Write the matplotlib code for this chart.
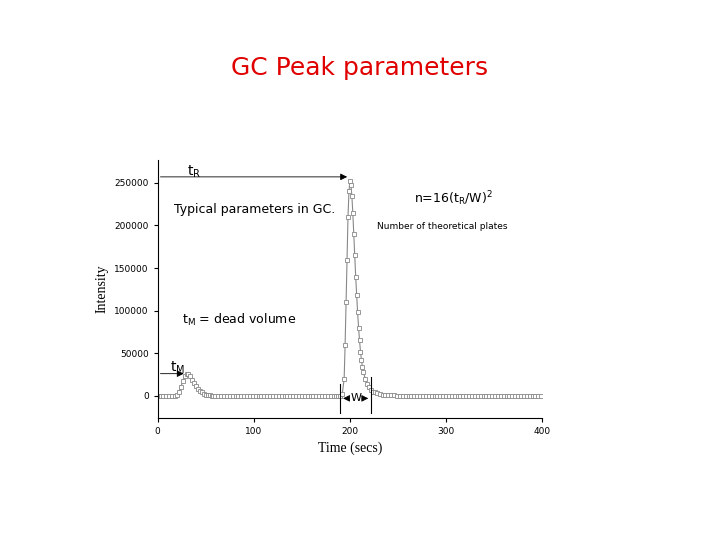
import matplotlib
matplotlib.use("Agg")
import matplotlib.pyplot as plt

t_small = [0, 3, 6, 9, 12, 15, 18, 20, 22, 24, 26, 28, 30, 32, 34, 36, 38, 40, 42, 44, 46, 48, 50, 52, 54, 56, 58, 60]
i_small = [0, 0, 0, 0, 0, 0, 0, 1000, 4000, 10000, 17000, 23000, 26000, 25500, 23000, 19000, 15000, 11500, 8500, 6000, 4000, 2500, 1500, 800, 400, 200, 0, 0]
t_base1 = [63, 66, 69, 72, 75, 78, 81, 84, 87, 90, 93, 96, 99, 102, 105, 108, 111, 114, 117, 120, 123, 126, 129, 132, 135, 138, 141, 144, 147, 150, 153, 156, 159, 162, 165, 168, 171, 174, 177, 180, 183, 186, 188]
t_big = [190, 192, 194, 195, 196, 197, 198, 199, 200, 201, 202, 203, 204, 205, 206, 207, 208, 209, 210, 211, 212, 213, 214, 216, 218, 220, 222, 224, 226, 228, 231, 234, 237, 240, 243, 246, 249, 252, 255, 258, 261]
i_big = [0, 2000, 20000, 60000, 110000, 160000, 210000, 240000, 252000, 248000, 235000, 215000, 190000, 165000, 140000, 118000, 98000, 80000, 65000, 52000, 42000, 34000, 28000, 20000, 14000, 10000, 7000, 5000, 4000, 3000, 2000, 1400, 1000, 700, 500, 400, 300, 200, 100, 50, 0]
t_base2 = [264, 267, 270, 273, 276, 279, 282, 285, 288, 291, 294, 297, 300, 303, 306, 309, 312, 315, 318, 321, 324, 327, 330, 333, 336, 339, 342, 345, 348, 351, 354, 357, 360, 363, 366, 369, 372, 375, 378, 381, 384, 387, 390, 393, 396, 399]

t = t_small + t_base1 + t_big + t_base2
y = i_small + [0]*len(t_base1) + i_big + [0]*len(t_base2)

fig = plt.figure(figsize=(7.2, 5.4), dpi=100)
fig.text(0.5, 0.874, "GC Peak parameters", color="#e00000", fontsize=18, ha="center", va="center", family="DejaVu Sans")
ax = fig.add_axes([0.219, 0.226, 0.534, 0.478])
ax.plot(t, y, color="#888888", lw=0.8, marker="s", ms=2.3, mfc="white", mec="#888888", mew=0.6)
ax.set_xlim(0, 400)
ax.set_ylim(-26000, 277000)
ax.spines["top"].set_visible(False)
ax.spines["right"].set_visible(False)
ax.set_xticks([0, 100, 200, 300, 400])
ax.set_yticks([0, 50000, 100000, 150000, 200000, 250000])
ax.tick_params(labelsize=6.5, length=3)
ax.set_xlabel("Time (secs)", family="Liberation Serif", fontsize=10)
ax.set_ylabel("Intensity", family="Liberation Serif", fontsize=10)

ax.annotate("", xy=(200, 257000), xytext=(0, 257000), arrowprops=dict(arrowstyle="-|>", color="black", lw=0.6))
ax.text(30, 259000, "t$_\\mathrm{R}$", fontsize=10)
ax.annotate("", xy=(30, 26000), xytext=(0, 26000), arrowprops=dict(arrowstyle="-|>", color="black", lw=0.6))
ax.text(13, 29000, "t$_\\mathrm{M}$", fontsize=10)
ax.plot([190, 190], [-20000, 14000], color="black", lw=0.8)
ax.plot([222, 222], [-20000, 22000], color="black", lw=0.8)
ax.annotate("", xy=(190, -3000), xytext=(200, -3000), arrowprops=dict(arrowstyle="-|>", color="black", lw=0.6))
ax.annotate("", xy=(222, -3000), xytext=(212, -3000), arrowprops=dict(arrowstyle="-|>", color="black", lw=0.6))
ax.text(206, -3000, "W", fontsize=8, ha="center", va="center")
ax.text(17, 215000, "Typical parameters in GC.", fontsize=9)
ax.text(25, 85000, "t$_\\mathrm{M}$ = dead volume", fontsize=9)
ax.text(267, 226000, "n=16(t$_\\mathrm{R}$/W)$^2$", fontsize=9)
ax.text(228, 196000, "Number of theoretical plates", fontsize=6.5)
fig.savefig("out.png", dpi=100)
